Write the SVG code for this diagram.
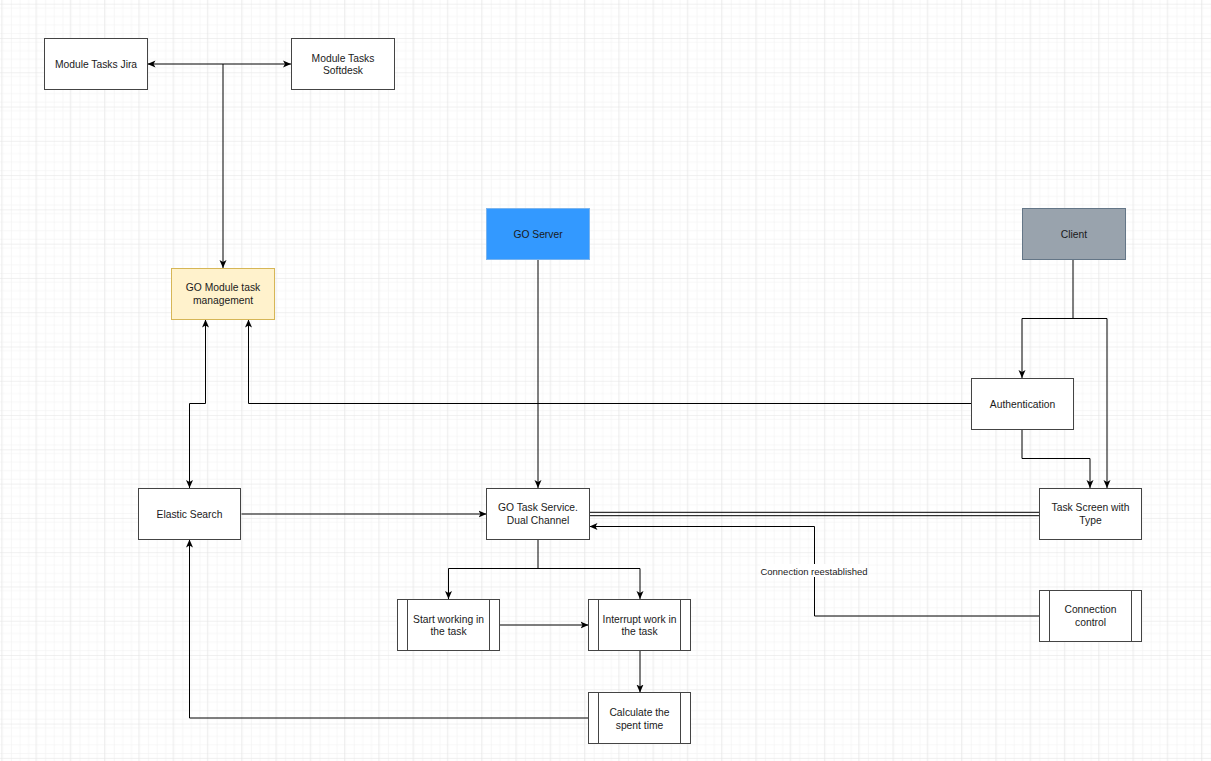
<svg xmlns="http://www.w3.org/2000/svg" width="1211" height="761" viewBox="0 0 1211 761">
<defs>
<pattern id="minor" patternUnits="userSpaceOnUse" x="1.2" y="3.7" width="8.57" height="8.57">
<path d="M0,0 H8.57 M0,0 V8.57" fill="none" stroke="#f0f0f0" stroke-width="1"/>
</pattern>
<pattern id="major" patternUnits="userSpaceOnUse" x="1.2" y="3.7" width="34.28" height="34.28">
<rect width="34.28" height="34.28" fill="url(#minor)"/>
<path d="M0,0 H34.28 M0,0 V34.28" fill="none" stroke="#e2e2e2" stroke-width="1"/>
</pattern>
<marker id="arr" markerUnits="userSpaceOnUse" markerWidth="10" markerHeight="8" refX="8" refY="4" orient="auto-start-reverse">
<path d="M0,0.5 L8,4 L0,7.5 L2,4 Z" fill="#000"/>
</marker>
<style>
.box{fill:#fff;stroke:#444;stroke-width:1}
.t{font-family:"Liberation Sans",Arial,sans-serif;font-size:10.3px;fill:#1a1a1a;text-anchor:middle}
.e{fill:none;stroke:#000;stroke-width:1}
.ea{fill:none;stroke:#000;stroke-width:1;marker-end:url(#arr)}
.eb{fill:none;stroke:#000;stroke-width:1;marker-start:url(#arr);marker-end:url(#arr)}
.in{stroke:#444;stroke-width:1}
</style>
</defs>
<rect width="1211" height="761" fill="#fff"/>
<rect width="1211" height="761" fill="url(#major)"/>

<g id="connectors">
<path class="eb" d="M147.5,64 H291"/>
<path class="ea" d="M223,64 V268"/>
<path class="ea" d="M538,259.5 V488"/>
<path class="e" d="M1073,259.5 V318.5"/>
<path class="ea" d="M1073,318.5 H1022 V378"/>
<path class="ea" d="M1073,318.5 H1107 V488"/>
<path class="ea" d="M1022,429.5 V458.5 H1090 V488"/>
<path class="ea" d="M971.5,403.5 H248.5 V319.5"/>
<path class="eb" d="M205.5,319.5 V403.5 H189.5 V488"/>
<path class="ea" d="M241.5,514 H486.5"/>
<path class="e" d="M538,539.5 V568.5"/>
<path class="ea" d="M538,568.5 H448.5 V599"/>
<path class="ea" d="M538,568.5 H640 V599"/>
<path class="ea" d="M499.5,625 H588.5"/>
<path class="ea" d="M640,650.5 V692.5"/>
<path class="ea" d="M588.5,718 H189.5 V539.5"/>
<path class="e" d="M589.5,512.3 H1039.5 M589.5,515.7 H1039.5"/>
<path class="ea" d="M1039.5,616 H814.5 V526.5 H589.5"/>
<rect x="761" y="564" width="106" height="13" fill="#fff"/>
<text class="t" x="814" y="574.5" style="font-size:9.5px">Connection reestablished</text>
</g>

<g id="jira">
<rect class="box" x="44.5" y="38.5" width="103" height="51"/>
<text class="t" x="96" y="67.5">Module Tasks Jira</text>
</g>
<g id="softdesk">
<rect class="box" x="291.5" y="38.5" width="103" height="51"/>
<text class="t" x="343" y="61.5">Module Tasks</text>
<text class="t" x="343" y="74">Softdesk</text>
</g>
<g id="gomodule">
<rect x="171.5" y="268.5" width="103" height="51" fill="#fff2cc" stroke="#d6b656" stroke-width="1"/>
<text class="t" x="223" y="290.5">GO Module task</text>
<text class="t" x="223" y="303.5">management</text>
</g>
<g id="goserver">
<rect x="486.5" y="208.5" width="103" height="51" fill="#3399ff" stroke="#7ab4ee" stroke-width="1"/>
<text class="t" x="538" y="237.7">GO Server</text>
</g>
<g id="client">
<rect x="1022.5" y="208.5" width="103" height="51" fill="#99a3ad" stroke="#647687" stroke-width="1"/>
<text class="t" x="1074" y="237.7">Client</text>
</g>
<g id="authentication">
<rect class="box" x="971.5" y="378.5" width="102" height="51"/>
<text class="t" x="1022.5" y="407.5">Authentication</text>
</g>
<g id="elastic">
<rect class="box" x="138.5" y="488.5" width="102" height="51"/>
<text class="t" x="189.5" y="517.7">Elastic Search</text>
</g>
<g id="gotask">
<rect class="box" x="486.5" y="488.5" width="103" height="51"/>
<text class="t" x="538" y="511.4">GO Task Service.</text>
<text class="t" x="538" y="524.4">Dual Channel</text>
</g>
<g id="taskscreen">
<rect class="box" x="1039.5" y="488.5" width="102" height="51"/>
<text class="t" x="1090.5" y="511.4">Task Screen with</text>
<text class="t" x="1090.5" y="524.4">Type</text>
</g>
<g id="start">
<rect class="box" x="397.5" y="599.5" width="102" height="51"/>
<path class="in" d="M407.5,599.5 V650.5 M489.5,599.5 V650.5"/>
<text class="t" x="448.5" y="622.7">Start working in</text>
<text class="t" x="448.5" y="634.7">the task</text>
</g>
<g id="interrupt">
<rect class="box" x="588.5" y="599.5" width="102" height="51"/>
<path class="in" d="M598.5,599.5 V650.5 M680.5,599.5 V650.5"/>
<text class="t" x="639.5" y="622.7">Interrupt work in</text>
<text class="t" x="639.5" y="634.7">the task</text>
</g>
<g id="calculate">
<rect class="box" x="588.5" y="692.5" width="102" height="51"/>
<path class="in" d="M598.5,692.5 V743.5 M680.5,692.5 V743.5"/>
<text class="t" x="639.5" y="715.7">Calculate the</text>
<text class="t" x="639.5" y="728.5">spent time</text>
</g>
<g id="conncontrol">
<rect class="box" x="1039.5" y="590.5" width="102" height="51"/>
<path class="in" d="M1049.5,590.5 V641.5 M1131.5,590.5 V641.5"/>
<text class="t" x="1090.5" y="613.4">Connection</text>
<text class="t" x="1090.5" y="626.4">control</text>
</g>
</svg>
